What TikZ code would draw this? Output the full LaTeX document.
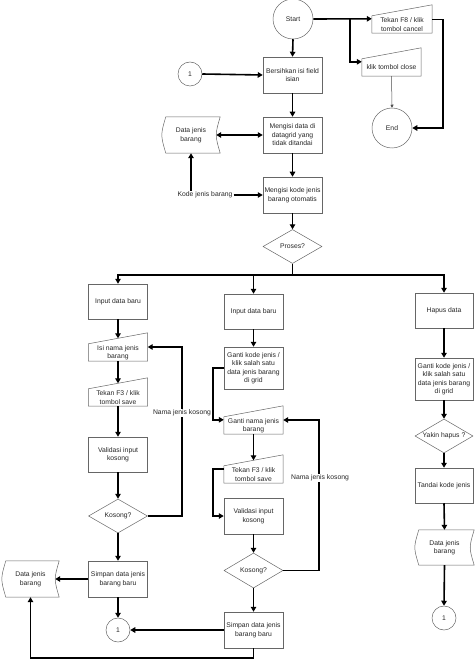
\documentclass[tikz,border=0pt]{standalone}
\usepackage{fontspec}
\setmainfont{Liberation Sans}
\usetikzlibrary{arrows.meta, positioning, calc, shapes.geometric}

% 手动输入（斜顶）
\newcommand{\maninput}[1]{%
  \draw[outline] (#1.south west) -- (#1.south east) -- ([yshift=11pt]#1.north east)
    -- (#1.north west) -- cycle;
  \coordinate (#1-top) at ([yshift=5.5pt]#1.north);
  \coordinate (#1-e) at ([yshift=5.5pt]#1.east);
  \coordinate (#1-w) at ([yshift=-3pt]#1.north west);}
% 存储数据
\newcommand{\storedata}[1]{%
  \draw[outline] ([xshift=4pt]#1.north west) -- (#1.north east)
    .. controls ([xshift=-5.3pt]#1.east) .. (#1.south east)
    -- ([xshift=4pt]#1.south west)
    .. controls ([xshift=-1.3pt]#1.west) .. ([xshift=4pt]#1.north west) -- cycle;
  \coordinate (#1-in) at ([xshift=-4pt]#1.east);}

\begin{document}
\begin{tikzpicture}[x=1pt, y=-1pt,
    txt/.style={font=\fontsize{6.8}{8.5}\selectfont, text=black!85, align=center},
    outline/.style={draw=black!60, line width=0.5pt},
    proc/.style={txt, outline, fill=white, minimum width=59pt, minimum height=36pt, inner sep=1pt},
    manual/.style={txt, minimum width=59pt, minimum height=17pt, inner xsep=1pt, inner ysep=0.3pt},
    store/.style={txt, minimum width=58pt, minimum height=36pt, inner sep=1pt},
    decision/.style={txt, outline, diamond, aspect=1.75, minimum width=59pt, minimum height=34pt, inner sep=0pt},
    conn/.style={txt, outline, circle, minimum size=24pt, inner sep=0pt},
    term/.style={conn, minimum size=40pt},
    lbl/.style={txt, fill=white, inner sep=0.5pt},
    flow/.style={black, line width=1.6pt, -{Triangle[length=5pt, width=5.5pt]}},
    line/.style={black, line width=1.6pt},
    thin/.style={draw=black!70, line width=0.5pt, -{Triangle[length=3pt, width=3pt]}}]
    \useasboundingbox (0,0) rectangle (474,660);

    % 顶部
    \node[term] (start) at (293,19) {Start};
    \node[manual, minimum width=60pt] (f8) at (402,24.5) {Tekan F8 / klik\\tombol cancel};
    \maninput{f8}
    \node[manual] (close) at (391.5,67.5) {klik tombol close};
    \maninput{close}
    \node[term] (endc) at (392,128) {End};
    \coordinate (br) at (350,19);

    \draw[flow] (start.east) -- (f8-w);
    \draw[flow] (br) |- (close-w);
    \draw[thin] (close.south) -- (endc.north);
    \draw[flow] ([yshift=5pt]f8.east) -- ++(11,0) |- (endc.east);

    % 初始化
    \node[conn] (c1top) at (190,74) {1};
    \node[proc] (bersih) at (292.5,75) {Bersihkan isi field\\isian};
    \node[proc] (isi) at (292.5,135) {Mengisi data di\\datagrid yang\\tidak ditandai};
    \node[store] (dataT) at (191,135) {Data jenis\\barang};
    \storedata{dataT}
    \node[txt, inner sep=1pt] (kode) at (205,195) {Kode jenis barang};
    \node[proc] (otom) at (292.5,195) {Mengisi kode jenis\\barang otomatis};
    \node[decision] (proses) at (292.5,246.5) {Proses?};
    \coordinate (bus) at (292.5,275);

    \draw[flow] (start.south) -- (bersih.north);
    \draw[flow] (c1top.east) -- (bersih.west);
    \draw[flow] (bersih.south) -- (isi.north);
    \draw[line, {Triangle[length=5pt, width=5.5pt]}-{Triangle[length=5pt, width=5.5pt]}] (dataT-in) -- (isi.west);
    \draw[flow] (kode.north -| dataT.south) -- (dataT.south);
    \draw[flow] (kode.east) -- (otom.west);
    \draw[flow] (isi.south) -- (otom.north);
    \draw[flow] (otom.south) -- (proses.north);

    % 左列：新增
    \node[proc, minimum height=35pt] (inL) at (118,301.5) {Input data baru};
    \node[manual] (nameL) at (118,352.5) {Isi nama jenis\\barang};
    \maninput{nameL}
    \node[manual] (saveL) at (118,397.5) {Tekan F3 / klik\\tombol save};
    \maninput{saveL}
    \node[proc, minimum height=35pt] (validL) at (118,454.5) {Validasi input\\kosong};
    \node[decision] (kosL) at (118,516) {Kosong?};
    \node[proc] (simpL) at (118,579) {Simpan data jenis\\barang baru};
    \node[store, minimum width=57pt] (dataL) at (30.5,579) {Data jenis\\barang};
    \storedata{dataL}
    \node[conn] (c1L) at (118,630) {1};

    % 中列：修改
    \node[proc, minimum height=35pt] (inM) at (253.5,311.5) {Input data baru};
    \node[proc, minimum height=42pt] (gantiM) at (253.5,368) {Ganti kode jenis /\\klik salah satu\\data jenis barang\\di grid};
    \node[manual] (nameM) at (253.5,425.5) {Ganti nama jenis\\barang};
    \maninput{nameM}
    \node[manual] (saveM) at (253.5,474.5) {Tekan F3 / klik\\tombol save};
    \maninput{saveM}
    \node[proc] (validM) at (253.5,516) {Validasi input\\kosong};
    \node[decision, minimum height=35pt] (kosM) at (253.5,570.5) {Kosong?};
    \node[proc] (simpM) at (253.5,630) {Simpan data jenis\\barang baru};

    % 右列：删除
    \node[proc, minimum width=58pt, minimum height=35pt] (hapus) at (444,310.5) {Hapus data};
    \node[proc, minimum width=58pt, minimum height=42pt] (gantiR) at (444,379) {Ganti kode jenis /\\klik salah satu\\data jenis barang\\di grid};
    \node[decision, minimum width=58pt] (yakin) at (444,436) {Yakin hapus ?};
    \node[proc, minimum width=58pt, minimum height=35pt] (tandai) at (444,485.5) {Tandai kode jenis};
    \node[store, minimum width=59pt, minimum height=35pt] (dataR) at (444.5,547.5) {Data jenis\\barang};
    \storedata{dataR}
    \node[conn] (c1R) at (444,618) {1};

    % 分支
    \draw[line] (proses.south) -- (bus);
    \draw[flow] (bus) -| (inL.north);
    \draw[flow] (bus) -| (hapus.north);
    \draw[flow] (bus -| inM.north) -- (inM.north);

    % 左列连线
    \draw[flow] (inL.south) -- (nameL-top);
    \draw[flow] (nameL.south) -- (saveL-top);
    \draw[flow] (saveL.south) -- (validL.north);
    \draw[flow] (validL.south) -- (kosL.north);
    \draw[flow] (kosL.south) -- (simpL.north);
    \draw[flow] (kosL.east) -- ++(34.5,0) |- (nameL-e);
    \node[lbl] (lblL) at (182,413) {Nama jenis kosong};
    \draw[flow] (simpL.west) -- (dataL-in);
    \draw[flow] (simpL.south) -- (c1L.north);

    % 中列连线
    \draw[flow] (inM.south) -- (gantiM.north);
    \draw[flow] (gantiM.west) -- ++(-11,0) |- (nameM-w);
    \draw[flow] (nameM.south) -- (saveM-top);
    \draw[flow] (saveM-w) -- ++(-11,0) |- (validM.west);
    \draw[flow] (validM.south) -- (kosM.north);
    \draw[flow] (kosM.south) -- (simpM.north);
    \draw[flow] (kosM.east) -- ++(36,0) |- (nameM-e);
    \node[lbl] (lblM) at (320,478) {Nama jenis kosong};
    \draw[flow] (simpM.west) -- (c1L.east);
    \draw[flow] (simpM.south) -- ++(0,10) -| (dataL.south);

    % 右列连线
    \draw[flow] (hapus.south) -- (gantiR.north);
    \draw[flow] (gantiR.south) -- (yakin.north);
    \draw[flow] (yakin.south) -- (tandai.north);
    \draw[flow] (tandai.south) -- (dataR.north);
    \draw[flow] (dataR.south) -- (c1R.north);
\end{tikzpicture}
\end{document}
